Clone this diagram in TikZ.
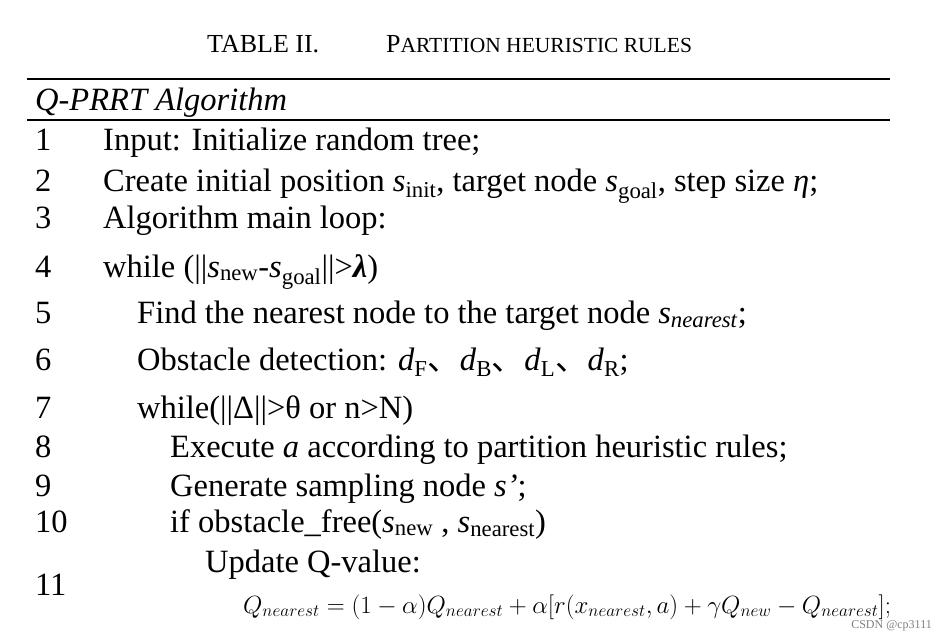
\documentclass[tikz,border=0pt]{standalone}
\usepackage{fontspec}
\setmainfont{Liberation Serif}
\newfontfamily\cjk{Noto Sans CJK SC}
\begin{document}
\begin{tikzpicture}[x=1pt,y=-1pt,
  txt/.style={anchor=base west,inner sep=0,font=\fontsize{32.5}{36}\selectfont},
  ttl/.style={anchor=base west,inner sep=0,font=\fontsize{26}{30}\selectfont}]
\useasboundingbox (0,0) rectangle (947,640);
\fill[white] (0,0) rectangle (947,640);
\node[ttl] (t1) at (207,52) {TABLE II.};
\node[ttl] (t2) at (386,52) {P{\fontsize{21.5}{24}\selectfont ARTITION HEURISTIC RULES}};
\draw[line width=1.5pt] (27,79) -- (890,79);
\draw[line width=1.2pt] (27,120) -- (890,120);
\node[txt] (h) at (35,110) {\itshape Q-PRRT Algorithm};
\foreach \n/\y in {1/150,2/191,3/228,4/277,5/323,6/370,7/418,8/457,9/496,10/532,11/595}
  \node[txt] (n\n) at (35,\y) {\n};
\node[txt] (r1) at (103,150) {Input: Initialize random tree;};
\node[txt] (r2) at (103,191) {Create initial position \textit{s}\textsubscript{init}, target node \textit{s}\textsubscript{goal}, step size \textit{η};};
\node[txt] (r3) at (103,228) {Algorithm main loop:};
\node[txt] (r4) at (103,277) {while (||\textit{s}\textsubscript{new}-\textit{s}\textsubscript{goal}||>\textbf{\textit{λ}})};
\node[txt] (r5) at (137,323) {Find the nearest node to the target node \textit{s}\textsubscript{\textit{nearest}};};
\node[txt] (r6) at (137,370) {Obstacle detection: \textit{d}\textsubscript{F}{\cjk 、}\textit{d}\textsubscript{B}{\cjk 、}\textit{d}\textsubscript{L}{\cjk 、}\textit{d}\textsubscript{R};};
\node[txt] (r7) at (137,418) {while(||Δ||>θ or n>N)};
\node[txt] (r8) at (170,457) {Execute \textit{a} according to partition heuristic rules;};
\node[txt] (r9) at (170,496) {Generate sampling node \textit{s’};};
\node[txt] (r10) at (170,532) {if obstacle\_free(\textit{s}\textsubscript{new} , \textit{s}\textsubscript{nearest})};
\node[txt] (r11) at (205,572) {Update Q-value:};
\node[anchor=base west,inner sep=0,font=\fontsize{23.5}{26}\selectfont] (f) at (243,613)
 {$Q_{nearest}=(1-\alpha)Q_{nearest}+\alpha\Big[r(x_{nearest},a)+\gamma Q_{new}-Q_{nearest}\Big];$};
\node[anchor=base east,inner sep=0,font=\fontsize{12}{14}\selectfont,text=gray] (w) at (932,628) {CSDN @cp3111};
\end{tikzpicture}
\end{document}
